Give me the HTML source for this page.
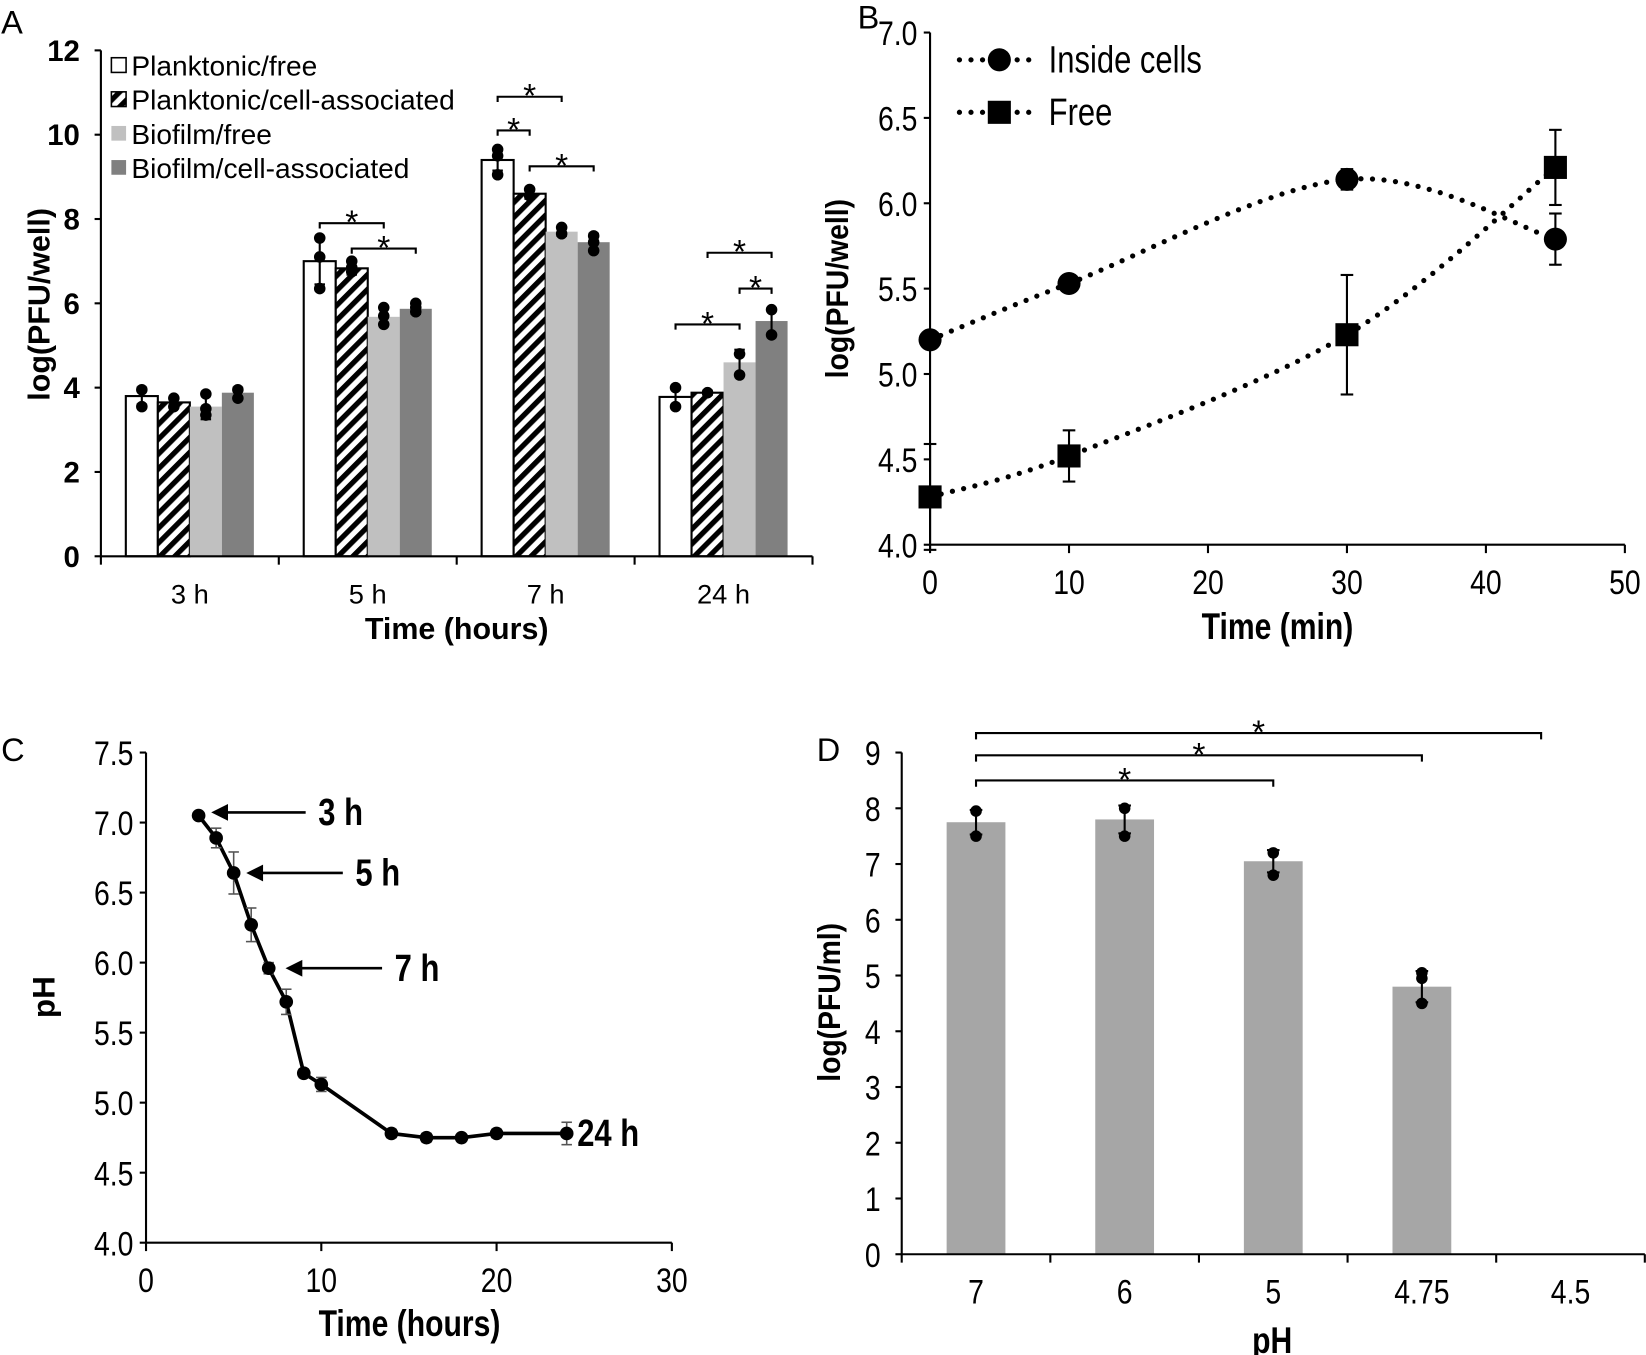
<!DOCTYPE html>
<html><head><meta charset="utf-8"><style>
html,body{margin:0;padding:0;background:#fff;}
svg{display:block;}
text{font-family:"Liberation Sans",Arial,sans-serif;fill:#000;}
</style></head><body>
<svg id="fig" width="1646" height="1355" viewBox="0 0 1568 1291" xmlns="http://www.w3.org/2000/svg">
<defs>
<pattern id="hatch" patternUnits="userSpaceOnUse" width="10" height="10" patternTransform="rotate(45)">
<rect width="10" height="10" fill="#fff"/><rect width="5" height="10" fill="#000"/>
</pattern>
</defs>
<g id="gA"></g>
<g id="gB"></g>
<g id="gC"></g>
<g id="gD"></g>
</svg>
<script>
// Panel A data
const aGroups = ["3 h","5 h","7 h","24 h"];
const aSeries = ["Planktonic/free","Planktonic/cell-associated","Biofilm/free","Biofilm/cell-associated"];
const aPF = [3.8, 7.0, 9.4, 3.78];
const aPC = [3.65, 6.83, 8.6, 3.88];
const aBF = [3.55, 5.68, 7.7, 4.6];
const aBC = [3.88, 5.87, 7.45, 5.58];
const aErrPF = [0.2, 0.55, 0.25, 0.2];
const aErrPC = [0.1, 0.15, 0.12, 0.05];
const aErrBF = [0.3, 0.2, 0.1, 0.3];
const aErrBC = [0.12, 0.12, 0.2, 0.3];
const aDotsPF = [[3.55,3.95],[6.35,7.1,7.55],[9.05,9.5,9.65]];
const aDotsPC = [[3.55,3.75],[6.75,6.85,7.0],[8.55,8.7]];
const aDotsBF = [[3.35,3.5,3.85],[5.5,5.7,5.9],[7.65,7.8]];
const aDotsBC = [[3.75,3.95],[5.8,5.9,6.0],[7.25,7.45,7.6]];
const aDots24 = [[3.55,4.0],[3.88],[4.3,4.8],[5.25,5.85]];
const aYTicks = [0,2,4,6,8,10,12];
const aSig = [[1,0,2,7.9],[1,1,3,7.3],[2,0,2,10.9],[2,0,1,10.1],[2,1,3,9.25],[3,0,2,5.5],[3,2,3,6.35],[3,1,3,7.2]];

// Panel B data
const bX = [0,10,30,45];
const bInside = [5.2,5.53,6.14,5.79];
const bInsideErr = [0,0,0.06,0.15];
const bFree = [4.28,4.52,5.23,6.21];
const bFreeErr = [0.31,0.15,0.35,0.22];
const bYTicks = [4.0,4.5,5.0,5.5,6.0,6.5,7.0];
const bXTicks = [0,10,20,30,40,50];

// Panel C data
const cX = [3,4,5,6,7,8,9,10,14,16,18,20,24];
const cPH = [7.05,6.89,6.64,6.27,5.96,5.72,5.21,5.13,4.78,4.75,4.75,4.78,4.78];
const cErr = [0.02,0.07,0.15,0.12,0.04,0.09,0.03,0.05,0.03,0.03,0.02,0.03,0.08];
const cYTicks = [4.0,4.5,5.0,5.5,6.0,6.5,7.0,7.5];
const cXTicks = [0,10,20,30];
const cArrows = [["3 h",3],["5 h",5],["7 h",7]];

// Panel D data
const dCats = ["7","6","5","4.75","4.5"];
const dVals = [7.75,7.8,7.05,4.8,0];
const dErr = [0.22,0.25,0.2,0.28,0];
const dDots = [[7.5,7.95],[7.5,8.0],[6.8,7.2],[4.5,4.95,5.05],[]];
const dYTicks = [0,1,2,3,4,5,6,7,8,9];
const dSig = [[0,2,8.5],[0,3,8.95],[0,4,9.35]];

const NS="http://www.w3.org/2000/svg";
function el(parent,tag,attrs,txt){const e=document.createElementNS(NS,tag);for(const k in attrs)e.setAttribute(k,attrs[k]);if(txt!==undefined)e.textContent=txt;parent.appendChild(e);return e;}
function nt(parent,x,y,size,anchor,txt,bold){return el(parent,'text',{transform:`translate(${x},${y}) scale(0.82,1)`,'font-size':size,'text-anchor':anchor,'font-weight':bold?'bold':'normal'},txt);}
function cr(pts){let d="M"+pts[0][0]+","+pts[0][1];for(let i=0;i<pts.length-1;i++){const p0=pts[Math.max(0,i-1)],p1=pts[i],p2=pts[i+1],p3=pts[Math.min(pts.length-1,i+2)];
d+=" C"+(p1[0]+(p2[0]-p0[0])/6)+","+(p1[1]+(p2[1]-p0[1])/6)+" "+(p2[0]-(p3[0]-p1[0])/6)+","+(p2[1]-(p3[1]-p1[1])/6)+" "+p2[0]+","+p2[1];}return d;}

// ---------- Panel A ----------
(function(){
const g=document.getElementById('gA');
const x0=96,x1=774,yb=530,yt=48;
const ya=v=>yb-(v/12)*(yb-yt);
const gw=(x1-x0)/aGroups.length, bw=30.5;
const bx=(gi,bi)=>x0+gw*(gi+0.5)-2*bw+bi*bw;
let t=el(g,'text',{x:1,y:32,'font-size':31});t.textContent="A";

const vals=[aPF,aPC,aBF,aBC], errs=[aErrPF,aErrPC,aErrBF,aErrBC], dots=[aDotsPF,aDotsPC,aDotsBF,aDotsBC];
const fills=["#fff","url(#hatch)","#c0c0c0","#808080"];
for(let gi=0;gi<aGroups.length;gi++){for(let bi=0;bi<4;bi++){
 const v=vals[bi][gi];const r=el(g,'rect',{x:bx(gi,bi),y:ya(v),width:bw,height:yb-ya(v),fill:fills[bi],stroke:bi<2?"#000":"none",'stroke-width':2});
 
 const cx=bx(gi,bi)+bw/2,e=errs[bi][gi];
 el(g,'line',{x1:cx,x2:cx,y1:ya(v-e),y2:ya(v+e),stroke:"#000",'stroke-width':2});
 el(g,'line',{x1:cx-5,x2:cx+5,y1:ya(v-e),y2:ya(v-e),stroke:"#000",'stroke-width':2});
 el(g,'line',{x1:cx-5,x2:cx+5,y1:ya(v+e),y2:ya(v+e),stroke:"#000",'stroke-width':2});
 const ds=gi<3?dots[bi][gi]:aDots24[bi];
 ds.forEach(d=>el(g,'circle',{cx:cx,cy:ya(d),r:5.5,fill:"#000"}));
}}
aSig.forEach(s=>{const xa=bx(s[0],s[1])+bw/2,xb=bx(s[0],s[2])+bw/2,y=ya(s[3]);
 const p=el(g,'path',{d:`M${xa},${y+5} V${y} H${xb} V${y+5}`,fill:"none",stroke:"#000",'stroke-width':2});
 
 el(g,'text',{x:(xa+xb)/2,y:y+10,'font-size':32,'text-anchor':'middle'},"*");});
const ax=el(g,'path',{d:`M${x0},${yt} V${yb} H${x1}`,fill:"none",stroke:"#000",'stroke-width':2});

aYTicks.forEach(v=>{el(g,'line',{x1:x0-6,x2:x0,y1:ya(v),y2:ya(v),stroke:"#000",'stroke-width':2});
 el(g,'text',{x:x0-20,y:ya(v)+10,'font-size':28,'font-weight':'bold','text-anchor':'end'},v);});
for(let i=0;i<=aGroups.length;i++)el(g,'line',{x1:x0+gw*i,x2:x0+gw*i,y1:yb,y2:yb+8,stroke:"#000",'stroke-width':2});
aGroups.forEach((n,i)=>el(g,'text',{x:x0+gw*(i+0.5),y:575,'font-size':26,'text-anchor':'middle'},n));
t=el(g,'text',{x:435,y:609,'font-size':29,'font-weight':'bold','text-anchor':'middle'},"Time (hours)");

t=el(g,'text',{transform:'translate(47,290) rotate(-90)','font-size':29,'font-weight':'bold','text-anchor':'middle'},"log(PFU/well)");

aSeries.forEach((n,i)=>{const y=63+i*32.5;
 const lg=el(g,'g',{});
 el(lg,'rect',{x:106,y:y-8,width:14,height:14,fill:fills[i],stroke:i<2?"#000":"none",'stroke-width':1.5});
 el(lg,'text',{x:125,y:y+9,'font-size':26.8},n);});
})();

// ---------- Panel B ----------
(function(){
const g=document.getElementById('gB');
const x0=886,x1=1548,yb=519,yt=31;
const xs=v=>x0+v/50*(x1-x0), ys=v=>yb-(v-4)/3*(yb-yt);
let t=el(g,'text',{x:817,y:27,'font-size':31},"B");

const ax=el(g,'path',{d:`M${x0},${yt} V${yb} H${x1}`,fill:"none",stroke:"#000",'stroke-width':2});

bYTicks.forEach(v=>{el(g,'line',{x1:x0-6,x2:x0,y1:ys(v),y2:ys(v),stroke:"#000",'stroke-width':2});
 nt(g,x0-12,ys(v)+12,33,'end',v.toFixed(1));});
bXTicks.forEach(v=>{el(g,'line',{x1:xs(v),x2:xs(v),y1:yb,y2:yb+8,stroke:"#000",'stroke-width':2});
 nt(g,xs(v),566,33,'middle',v);});
t=nt(g,1217,609,35,'middle',"Time (min)",true);

t=el(g,'text',{transform:'translate(808,275) rotate(-90) scale(0.9,1)','font-size':30,'font-weight':'bold','text-anchor':'middle'},"log(PFU/well)");

function series(vals,errs,shape,name){
 const pts=bX.map((x,i)=>[xs(x),ys(vals[i])]);
 const p=el(g,'path',{d:cr(pts),fill:"none",stroke:"#000",'stroke-width':5,'stroke-dasharray':'0 11','stroke-linecap':'round'});
 
 bX.forEach((x,i)=>{const cx=xs(x),e=errs[i];if(e>0){
  el(g,'line',{x1:cx,x2:cx,y1:ys(vals[i]-e),y2:ys(vals[i]+e),stroke:"#000",'stroke-width':2});
  [vals[i]-e,vals[i]+e].forEach(v=>el(g,'line',{x1:cx-6,x2:cx+6,y1:ys(v),y2:ys(v),stroke:"#000",'stroke-width':2}));}
  if(shape==='c')el(g,'circle',{cx:cx,cy:ys(vals[i]),r:11,fill:"#000"});
  else el(g,'rect',{x:cx-11,y:ys(vals[i])-11,width:22,height:22,fill:"#000"});});
}
series(bInside,bInsideErr,'c','inside-cells');
series(bFree,bFreeErr,'s','free');
[["Inside cells",57,'c'],["Free",107,'s']].forEach(l=>{
 const lg=el(g,'g',{});
 el(lg,'line',{x1:914,x2:990,y1:l[1],y2:l[1],stroke:"#000",'stroke-width':5,'stroke-dasharray':'0 11','stroke-linecap':'round'});
 if(l[2]==='c')el(lg,'circle',{cx:952,cy:l[1],r:11,fill:"#000"});else el(lg,'rect',{x:941,y:l[1]-11,width:22,height:22,fill:"#000"});
 nt(lg,999,l[1]+12,36,'start',l[0]);});
})();

// ---------- Panel C ----------
(function(){
const g=document.getElementById('gC');
const x0=139,x1=640,yb=1184,yt=717;
const xs=v=>x0+v/30*(x1-x0), ys=v=>yb-(v-4)/3.5*(yb-yt);
let t=el(g,'text',{x:1,y:725,'font-size':31},"C");

const ax=el(g,'path',{d:`M${x0},${yt} V${yb} H${x1}`,fill:"none",stroke:"#000",'stroke-width':2});

cYTicks.forEach(v=>{el(g,'line',{x1:x0-6,x2:x0,y1:ys(v),y2:ys(v),stroke:"#000",'stroke-width':2});
 nt(g,x0-12,ys(v)+12,33,'end',v.toFixed(1));});
cXTicks.forEach(v=>{el(g,'line',{x1:xs(v),x2:xs(v),y1:yb,y2:yb+8,stroke:"#000",'stroke-width':2});
 nt(g,xs(v),1231,33,'middle',v);});
t=nt(g,390,1273,35,'middle',"Time (hours)",true);

t=el(g,'text',{transform:'translate(52,950) rotate(-90)','font-size':30,'font-weight':'bold','text-anchor':'middle'},"pH");

const pts=cX.map((x,i)=>[xs(x),ys(cPH[i])]);
const p=el(g,'path',{d:"M"+pts.map(q=>q.join(',')).join(' L'),fill:"none",stroke:"#000",'stroke-width':3.5});

cX.forEach((x,i)=>{const cx=xs(x),v=cPH[i],e=cErr[i];
 el(g,'line',{x1:cx,x2:cx,y1:ys(v-e),y2:ys(v+e),stroke:"#555",'stroke-width':1.5});
 [v-e,v+e].forEach(w=>el(g,'line',{x1:cx-5,x2:cx+5,y1:ys(w),y2:ys(w),stroke:"#555",'stroke-width':1.5}));
 el(g,'circle',{cx:cx,cy:ys(v),r:6.5,fill:"#000"});});
const aLen=[90,92,92];
cArrows.forEach((a,i)=>{const hx=xs(a[1])+12+(i===2?4:0),y=ys(cPH[cX.indexOf(a[1])])+(i===0?-3:0);
 const ag=el(g,'g',{});
 el(ag,'line',{x1:hx+10,x2:hx+aLen[i],y1:y,y2:y,stroke:"#000",'stroke-width':2.5});
 el(ag,'path',{d:`M${hx},${y} l16,-8 v16 z`,fill:"#000"});
 nt(ag,hx+aLen[i]+12,y+12,36,'start',a[0],true);});
nt(g,xs(24)+10,ys(4.78)+12,36,'start',"24 h",true);
})();

// ---------- Panel D ----------
(function(){
const g=document.getElementById('gD');
const x0=859,x1=1567,yb=1195,yt=717;
const cw=(x1-x0)/dCats.length;
const xc=i=>x0+cw*(i+0.5), ys=v=>yb-v/9*(yb-yt);
let t=el(g,'text',{x:778,y:725,'font-size':31},"D");

dCats.forEach((c,i)=>{const v=dVals[i];
 const r=el(g,'rect',{x:xc(i)-28,y:ys(v),width:56,height:yb-ys(v),fill:"#a6a6a6"});
 
 if(dErr[i]>0){const cx=xc(i),e=dErr[i];
  el(g,'line',{x1:cx,x2:cx,y1:ys(v-e),y2:ys(v+e),stroke:"#000",'stroke-width':2});
  [v-e,v+e].forEach(w=>el(g,'line',{x1:cx-6,x2:cx+6,y1:ys(w),y2:ys(w),stroke:"#000",'stroke-width':2}));}
 dDots[i].forEach(d=>el(g,'circle',{cx:xc(i),cy:ys(d),r:5.5,fill:"#000"}));});
dSig.forEach(s=>{const xa=xc(s[0]),xb=xc(s[1])-(s[1]===4?28:0),y=ys(s[2]);
 const p=el(g,'path',{d:`M${xa},${y+6} V${y} H${xb} V${y+6}`,fill:"none",stroke:"#000",'stroke-width':2});
 
 el(g,'text',{x:(xa+xb)/2,y:y+10,'font-size':32,'text-anchor':'middle'},"*");});
const ax=el(g,'path',{d:`M${x0},${yt} V${yb} H${x1}`,fill:"none",stroke:"#000",'stroke-width':2});

dYTicks.forEach(v=>{el(g,'line',{x1:x0-6,x2:x0,y1:ys(v),y2:ys(v),stroke:"#000",'stroke-width':2});
 nt(g,x0-20,ys(v)+12,33,'end',v);});
for(let i=0;i<=dCats.length;i++)el(g,'line',{x1:x0+cw*i,x2:x0+cw*i,y1:yb,y2:yb+8,stroke:"#000",'stroke-width':2});
dCats.forEach((c,i)=>nt(g,xc(i),1242,33,'middle',c));
t=nt(g,1212,1289,35,'middle',"pH",true);

t=el(g,'text',{transform:'translate(800,955) rotate(-90) scale(0.9,1)','font-size':30,'font-weight':'bold','text-anchor':'middle'},"log(PFU/ml)");

})();
</script>
</body></html>
